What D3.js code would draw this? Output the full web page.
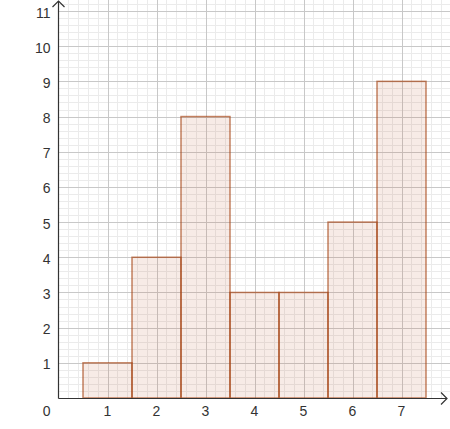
<!DOCTYPE html>
<html><head><meta charset="utf-8">
<script src="https://cdn.jsdelivr.net/npm/d3@7"></script>
<style>body{margin:0;background:#fff}svg{display:block}</style>
</head><body>
<script>
const categories = [1,2,3,4,5,6,7];
const values = [1,4,8,3,3,5,9];
const xTicks = [1,2,3,4,5,6,7];
const yTicks = [1,2,3,4,5,6,7,8,9,10,11];

const W=450,H=429;
const x = d3.scaleLinear().domain([0,8]).range([58.5,450.5]);
const y = d3.scaleLinear().domain([0,11]).range([398,11]);
const svg = d3.select("body").append("svg").attr("width",W).attr("height",H);

// minor grid
const minorX = d3.range(0,8.2,0.2).filter(v=>Math.abs(v-Math.round(v))>1e-6);
const minorY = d3.range(0,11.4,0.2).filter(v=>Math.abs(v-Math.round(v))>1e-6);
const g = svg.append("g");
g.selectAll(".mx").data(minorX).join("line")
 .attr("x1",d=>Math.round(x(d))+0.5).attr("x2",d=>Math.round(x(d))+0.5).attr("y1",0).attr("y2",y(0))
 .attr("stroke","#ebebeb");
g.selectAll(".my").data(minorY).join("line")
 .attr("y1",d=>Math.round(y(d))+0.5).attr("y2",d=>Math.round(y(d))+0.5).attr("x1",x(0)).attr("x2",W)
 .attr("stroke","#ebebeb");
g.selectAll(".Mx").data(d3.range(1,9)).join("line")
 .attr("x1",d=>Math.round(x(d))+0.5).attr("x2",d=>Math.round(x(d))+0.5).attr("y1",0).attr("y2",y(0))
 .attr("stroke","#c8c8c8");
g.selectAll(".My").data(d3.range(1,12)).join("line")
 .attr("y1",d=>Math.round(y(d))+0.5).attr("y2",d=>Math.round(y(d))+0.5).attr("x1",x(0)).attr("x2",W)
 .attr("stroke","#c8c8c8");

// bars
svg.selectAll(".bar").data(categories).join("rect")
 .attr("x",(d)=>x(d-0.5)).attr("width",(d)=>x(d+0.5)-x(d-0.5))
 .attr("y",(d,i)=>y(values[i])).attr("height",(d,i)=>y(0)-y(values[i]))
 .attr("fill","rgba(190,100,60,0.13)").attr("stroke","rgba(165,65,15,0.65)").attr("stroke-width",1.5);

// axes
const ax = svg.append("g").attr("stroke","#333").attr("fill","none").attr("stroke-width",1.2);
ax.append("line").attr("x1",x(0)).attr("x2",447).attr("y1",y(0)+0.5).attr("y2",y(0)+0.5);
ax.append("line").attr("x1",x(0)).attr("x2",x(0)).attr("y1",1).attr("y2",y(0)+0.5);
ax.append("path").attr("d",`M${441},${y(0)-5.5} L447,${y(0)+0.5} L441,${y(0)+6.5}`);
ax.append("path").attr("d",`M${x(0)-6},7 L${x(0)},1 L${x(0)+6},7`);

// labels
const tf = "'Liberation Sans', Arial, sans-serif";
svg.selectAll(".xl").data(xTicks).join("text")
 .attr("x",d=>x(d)).attr("y",y(0)+18).attr("text-anchor","middle")
 .attr("font-family",tf).attr("font-size",14).attr("fill","#333").text(d=>d);
svg.selectAll(".yl").data(yTicks).join("text")
 .attr("x",x(0)-8).attr("y",d=>y(d)+6.5).attr("text-anchor","end")
 .attr("font-family",tf).attr("font-size",14).attr("fill","#333").text(d=>d);
svg.append("text").attr("x",x(0)-8).attr("y",y(0)+18).attr("text-anchor","end")
 .attr("font-family",tf).attr("font-size",14).attr("fill","#333").text("0");
</script>
</body></html>
